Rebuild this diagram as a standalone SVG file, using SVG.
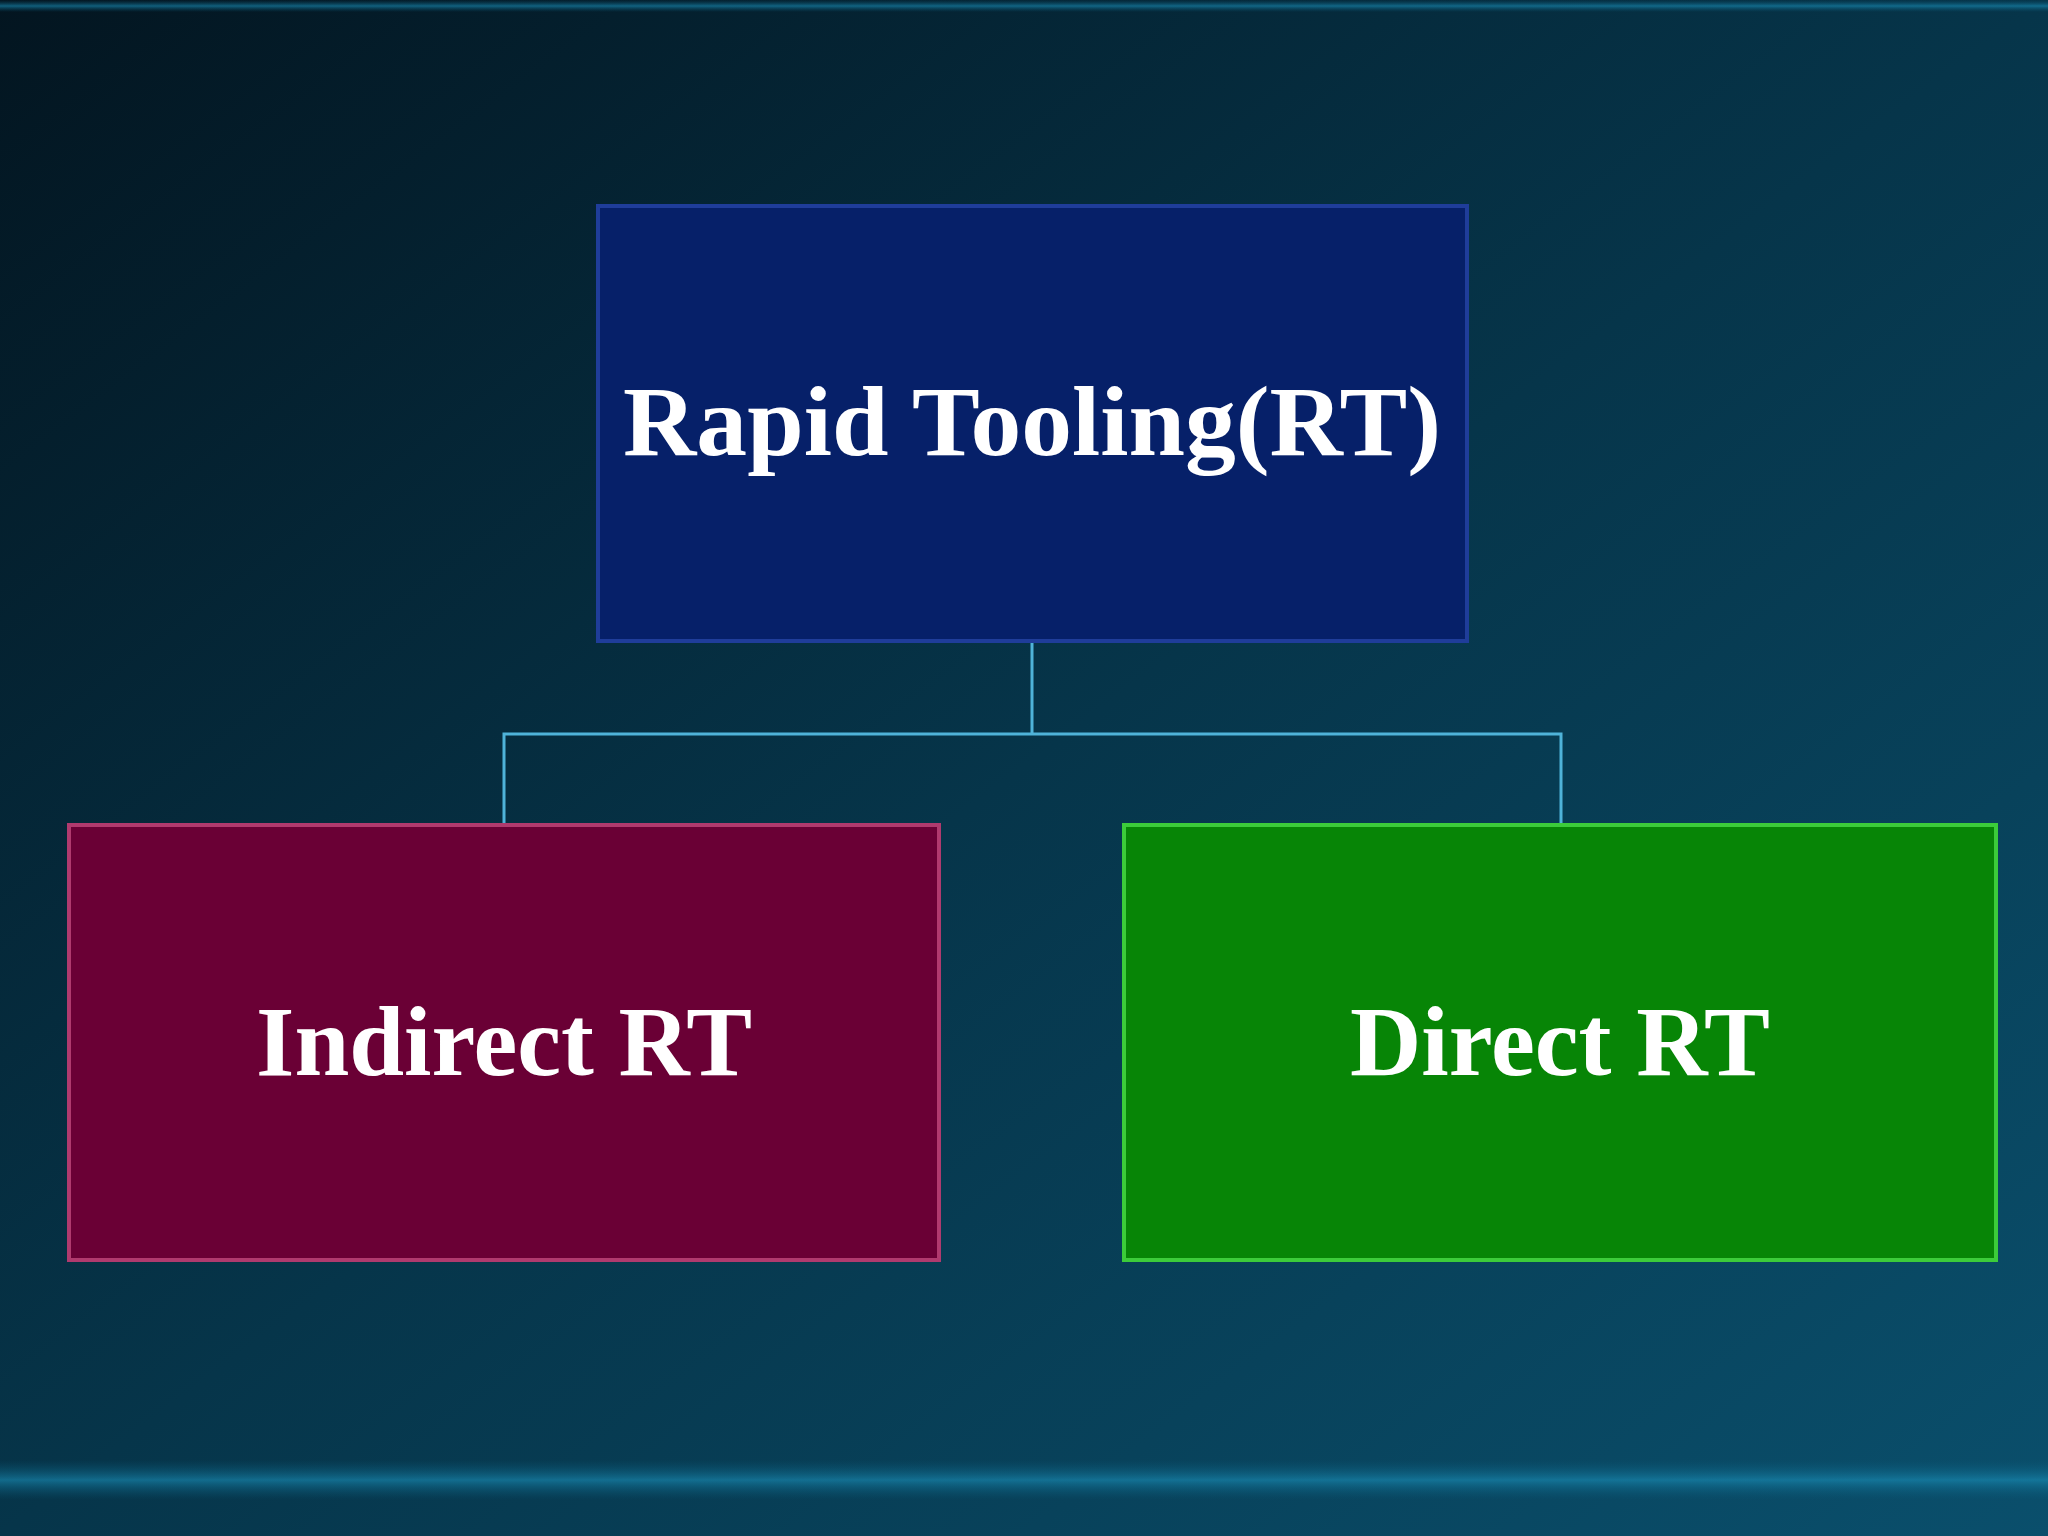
<svg xmlns="http://www.w3.org/2000/svg" width="2048" height="1536" viewBox="0 0 2048 1536">
<defs>
<linearGradient id="bg" x1="0" y1="0" x2="1" y2="1">
<stop offset="0" stop-color="#031520"/>
<stop offset="0.5" stop-color="#06354a"/>
<stop offset="1" stop-color="#0a4f6c"/>
</linearGradient>
<linearGradient id="band" x1="0" y1="0" x2="0" y2="1">
<stop offset="0" stop-color="#0a5f80" stop-opacity="0"/>
<stop offset="0.5" stop-color="#1a8fb8" stop-opacity="0.6"/>
<stop offset="1" stop-color="#0a5f80" stop-opacity="0"/>
</linearGradient>
<style>
.box{stroke-width:4}
.lbl{font-family:"Liberation Serif","DejaVu Serif",serif;font-weight:bold;font-size:100px;fill:#ffffff;text-anchor:middle}
.conn{fill:none;stroke:#4fb3d9;stroke-width:3}
</style>
</defs>
<rect width="2048" height="1536" fill="url(#bg)"/>
<rect y="0" width="2048" height="12" fill="url(#band)"/>
<rect y="1460" width="2048" height="40" fill="url(#band)"/>
<g id="connectors">
<path class="conn" d="M1032 641 V734 M504 825 V734 H1561 V825"/>
</g>
<g id="rt">
<rect class="box" x="598" y="206" width="869" height="435" fill="#062069" stroke="#1f3d9a"/>
<text class="lbl" x="1032" y="455" textLength="818" lengthAdjust="spacingAndGlyphs">Rapid Tooling(RT)</text>
</g>
<g id="indirect">
<rect class="box" x="69" y="825" width="870" height="435" fill="#6a0035" stroke="#b03a6e"/>
<text class="lbl" x="504" y="1075" textLength="496" lengthAdjust="spacingAndGlyphs">Indirect RT</text>
</g>
<g id="direct">
<rect class="box" x="1124" y="825" width="872" height="435" fill="#078506" stroke="#3ccc3a"/>
<text class="lbl" x="1560" y="1075" textLength="420" lengthAdjust="spacingAndGlyphs">Direct RT</text>
</g>
</svg>
